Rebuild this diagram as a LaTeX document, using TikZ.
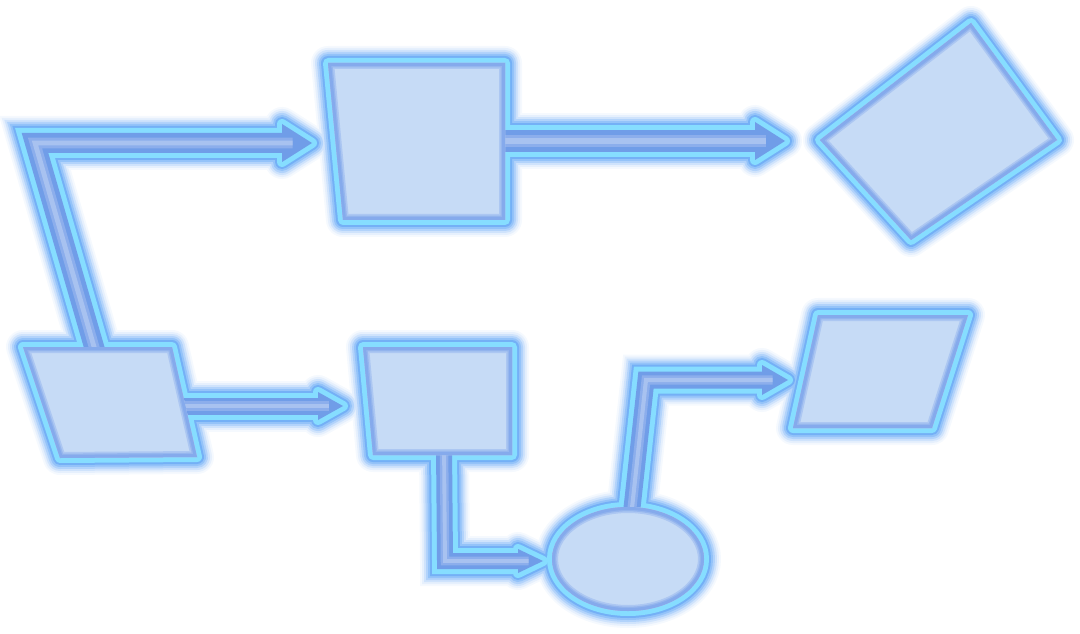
\documentclass[tikz,border=0pt]{standalone}
\usepackage{xcolor}
\usepackage{tikz}

\definecolor{glowA}{HTML}{F5F9FE}
\definecolor{glowB}{HTML}{E6F0FD}
\definecolor{glowC}{HTML}{CFE3FC}
\definecolor{glowD}{HTML}{B2D3FB}
\definecolor{glowE}{HTML}{94C3F9}
\definecolor{glowF}{HTML}{74B0F6}
\definecolor{rim}{HTML}{86DDFF}
\definecolor{boxfill}{HTML}{C6DBF6}
\definecolor{boxedge}{HTML}{85AAEC}
\definecolor{pipe}{HTML}{709DE8}
\definecolor{pipemid}{HTML}{8CAEEC}
\definecolor{pipecore}{HTML}{A8C2F0}

% outlines of the boxes
\def\shTB{(tb1) -- (tb2) -- (tb3) -- (tb4) -- cycle}
\def\shDia{(dia1) -- (dia2) -- (dia3) -- (dia4) -- cycle}
\def\shLP{(lp1) -- (lp2) -- (lp3) -- (lp4) -- cycle}
\def\shMB{(mb1) -- (mb2) -- (mb3) -- (mb4) -- cycle}
\def\shEl{(el) ellipse [x radius=76, y radius=52]}
\def\shRP{(rp1) -- (rp2) -- (rp3) -- (rp4) -- cycle}
% arrow bodies
\def\pipeA{(a1s) -- (a1c) -- (a1e)}
\def\pipeB{(a2s) -- (a2e)}
\def\pipeC{(a3s) -- (a3e)}
\def\pipeD{(a4s) -- (a4c) -- (a4e)}
\def\pipeE{(a5s) -- (a5c) -- (a5e)}
% arrow heads
\def\headA{(a1e) ++(0,-19) -- (312,143) -- (282,162) -- cycle}
\def\headB{(a2e) ++(0,-19) -- (785,141) -- (755,160) -- cycle}
\def\headC{(a3e) ++(0,-14) -- (343,406) -- (318,420) -- cycle}
\def\headD{(a4e) ++(0,-12) -- (543,561) -- (518,573) -- cycle}
\def\headE{(a5e) ++(0,-15) -- (788,380) -- (762,395) -- cycle}

\begin{document}
\begin{tikzpicture}[x=0.75pt,y=-0.75pt,line join=round]
    \tikzstyle{body}=[line join=miter]
    \tikzstyle{shade}=[draw=boxedge]

    \useasboundingbox (0,0) rectangle (1080,634);

    \coordinate (tb1) at (328,63);   \coordinate (tb2) at (505,63);
    \coordinate (tb3) at (505,220);  \coordinate (tb4) at (343,220);
    \coordinate (dia1) at (971,23);  \coordinate (dia2) at (1057,140);
    \coordinate (dia3) at (911,240); \coordinate (dia4) at (820,140);
    \coordinate (lp1) at (23,347);   \coordinate (lp2) at (172,347);
    \coordinate (lp3) at (197,457);  \coordinate (lp4) at (60,458);
    \coordinate (mb1) at (363,347);  \coordinate (mb2) at (512,347);
    \coordinate (mb3) at (512,455);  \coordinate (mb4) at (373,455);
    \coordinate (el) at (628,559);
    \coordinate (rp1) at (818,315);  \coordinate (rp2) at (968,315);
    \coordinate (rp3) at (932,428);  \coordinate (rp4) at (793,428);

    \coordinate (a1s) at (97,357);  \coordinate (a1c) at (35,143);  \coordinate (a1e) at (282,143);
    \coordinate (a2s) at (497,141); \coordinate (a2e) at (755,141);
    \coordinate (a3s) at (178,406); \coordinate (a3e) at (318,406);
    \coordinate (a4s) at (444,447); \coordinate (a4c) at (445,561); \coordinate (a4e) at (518,561);
    \coordinate (a5s) at (631,517); \coordinate (a5c) at (646,380); \coordinate (a5e) at (762,380);

    % glow and rim, one layer at a time
    \foreach \c/\e in {glowA/34,glowB/30,glowC/26,glowD/22,glowE/18,glowF/14,rim/10} {
        \foreach \s in {\shTB,\shDia,\shLP,\shMB,\shEl,\shRP}
            \draw[draw=\c, line width=\e*0.75pt] \s;
        \foreach \p/\w in {\pipeA/20,\pipeB/22,\pipeC/17,\pipeD/16,\pipeE/17}
            \draw[body, draw=\c, line width={(\w+\e)*0.75pt}] \p;
        \foreach \h in {\headA,\headB,\headC,\headD,\headE}
            \draw[draw=\c, line width=\e*0.75pt] \h;
    }

    % arrow insides
    \foreach \p/\w in {\pipeA/20,\pipeB/22,\pipeC/17,\pipeD/16,\pipeE/17}
        \draw[body, draw=pipe, line width=\w*0.75pt, shorten >=-3pt] \p;
    \foreach \h in {\headA,\headB,\headC,\headD,\headE}
        \fill[pipe] \h;
    \foreach \p/\w in {\pipeA/20,\pipeB/22,\pipeC/17,\pipeD/16,\pipeE/17} {
        \draw[body, draw=pipemid, line width=\w*0.4pt, shorten >=-8pt] \p;
        \draw[body, draw=pipecore, line width=\w*0.18pt, shorten >=-8pt] \p;
    }

    % box insides
    \foreach \s in {\shTB,\shDia,\shLP,\shMB,\shEl,\shRP} {
        \fill[boxfill] \s;
        \begin{scope}
            \clip \s;
            \draw[shade, draw=boxedge!40!boxfill, line width=9pt] \s;
            \draw[shade, draw=boxedge!75!boxfill, line width=6.5pt] \s;
            \draw[shade, line width=4.5pt] \s;
        \end{scope}
    }
\end{tikzpicture}
\end{document}
